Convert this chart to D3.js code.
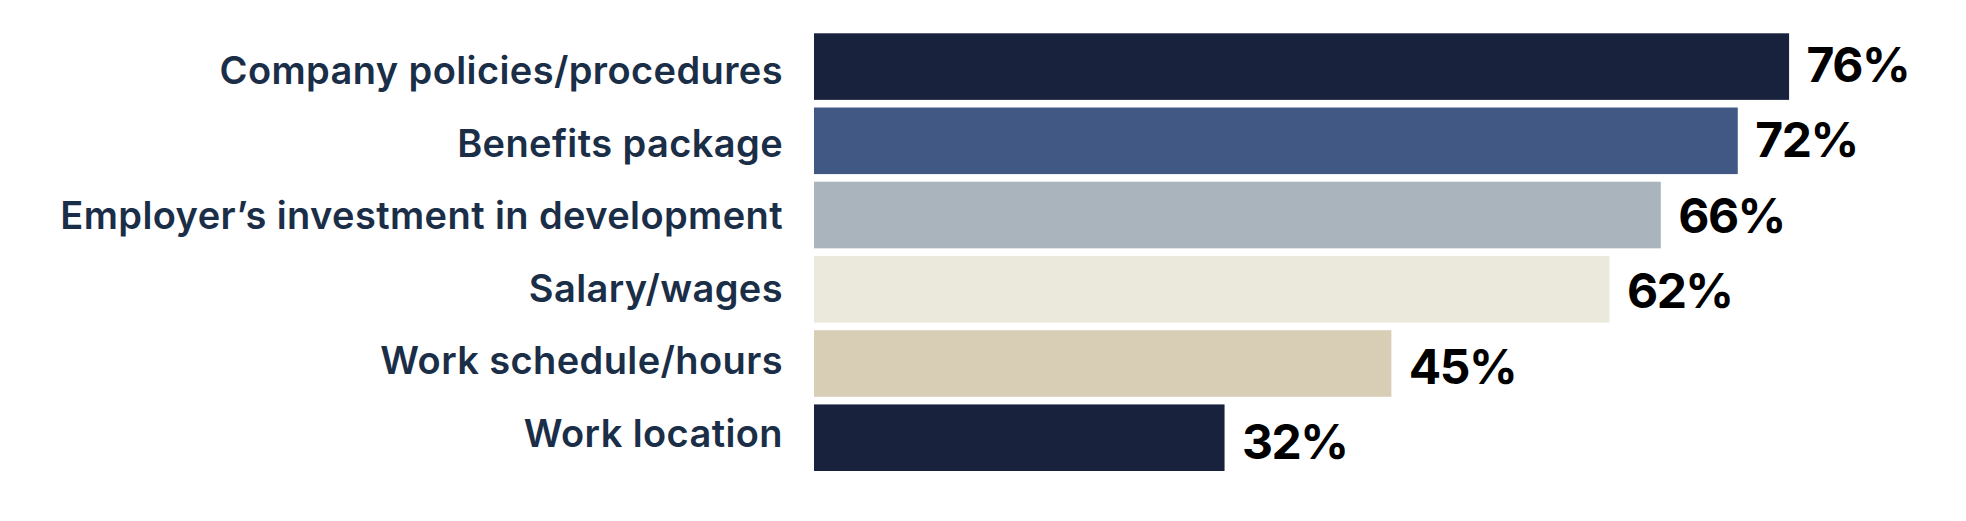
<!DOCTYPE html>
<html>
<head>
<meta charset="utf-8">
<script src="https://cdn.jsdelivr.net/npm/d3@7"></script>
<style>
    body { margin: 0; background: #fff; }
    .cat { font-family: Inter, Lato, sans-serif; font-weight: 600; fill: #1b2e48; letter-spacing: 0.4px; }
    .val { font-family: Inter, Lato, sans-serif; font-weight: 700; fill: #000; letter-spacing: -1.5px; }
</style>
</head>
<body>
<div id="chart"></div>
<script>
// data
const categories = [
    "Company policies/procedures",
    "Benefits package",
    "Employer\u2019s investment in development",
    "Salary/wages",
    "Work schedule/hours",
    "Work location"
];
const values = [76, 72, 66, 62, 45, 32];
const barColors = ["#18223d", "#415784", "#a9b4bd", "#ebe8dc", "#d8cdb5", "#18223d"];

const width = 1966, height = 521;

const svg = d3.select("#chart").append("svg")
    .attr("width", width)
    .attr("height", height);

// 0..100% across the plot
const x = d3.scaleLinear().domain([0, 100]).range([814, 2097]);
const y = d3.scaleBand().domain(categories).range([33.3, 471]).paddingInner(0.103);

// the text rows in the original are spaced a little differently from the bars
const yCat = d3.scalePoint().domain(categories).range([83.9, 447.1]);
const yVal = d3.scalePoint().domain(categories).range([82, 459]);

const rows = categories.map((c, i) => ({cat: c, value: values[i], color: barColors[i]}));

svg.selectAll("rect.bar")
    .data(rows)
    .enter().append("rect")
    .attr("class", "bar")
    .attr("x", x(0))
    .attr("y", d => y(d.cat))
    .attr("width", d => x(d.value) - x(0))
    .attr("height", y.bandwidth())
    .attr("fill", d => d.color);

// category labels, right aligned left of the bars
svg.selectAll("text.cat")
    .data(rows)
    .enter().append("text")
    .attr("class", "cat")
    .attr("x", x(0) - 31)
    .attr("y", d => yCat(d.cat))
    .attr("text-anchor", "end")
    .style("font-size", "38px")
    .text(d => d.cat);

// value labels at bar ends
svg.selectAll("text.val")
    .data(rows)
    .enter().append("text")
    .attr("class", "val")
    .attr("x", d => x(d.value) + 17.5)
    .attr("y", d => yVal(d.cat))
    .style("font-size", "48px")
    .text(d => d.value + "%");
</script>
</body>
</html>
